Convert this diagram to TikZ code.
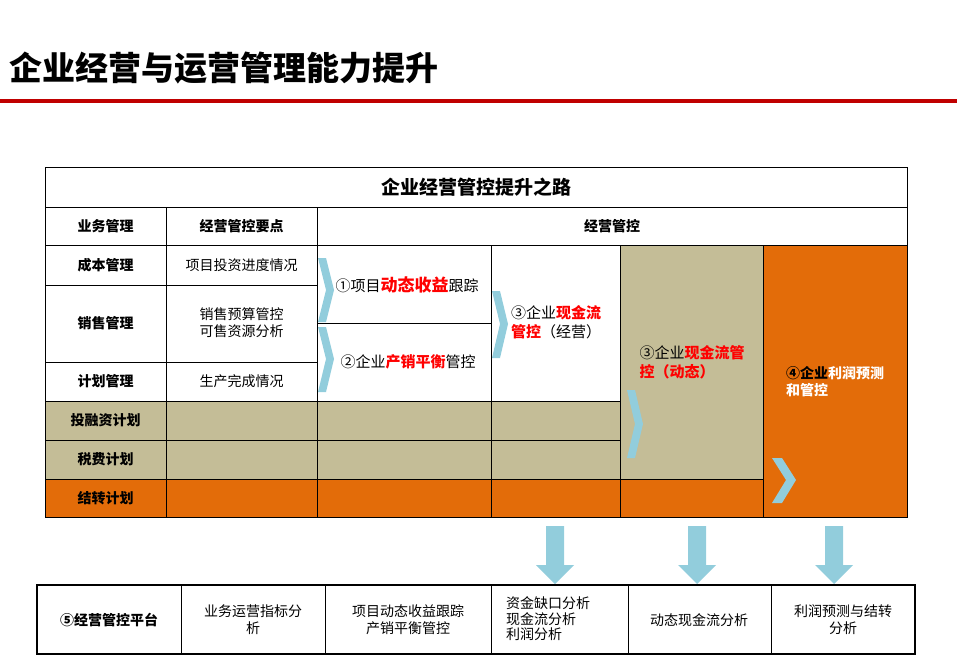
\documentclass[tikz,border=0pt]{standalone}
\usepackage{fontspec}
\setmainfont{Noto Sans CJK SC}
\begin{document}
\begin{tikzpicture}[x=1pt,y=-1pt,
 cell/.style={draw=black,line width=0.8pt},
 tan/.style={cell,fill=tanc},
 org/.style={cell,fill=orgc},
 lbl/.style={font=\fontsize{14}{17}\selectfont\bfseries,align=center},
 txt/.style={font=\fontsize{14}{17}\selectfont,align=center},
 chev/.style={fill=chevc,draw=none}]
\definecolor{tanc}{HTML}{C4BD97}
\definecolor{orgc}{HTML}{E36C09}
\definecolor{chevc}{HTML}{92CDDC}
\definecolor{redc}{HTML}{C00000}
\useasboundingbox (0,0) rectangle (957,656);
\node[anchor=west,font=\fontsize{33}{38}\selectfont\bfseries] (title) at (6,68) {企业经营与运营管理能力提升};
\fill[redc] (0,99) rectangle (957,103);
% backgrounds
\draw[tan] (45,401) rectangle (620,479);
\draw[org] (45,479) rectangle (620,517);
\draw[tan] (620,245) rectangle (763,479);
\draw[org] (620,479) rectangle (763,517);
\draw[org] (763,245) rectangle (907,517);
% grid
\draw[cell] (45,167) rectangle (907,517);
\draw[cell] (45,207) -- (907,207);
\draw[cell] (45,245) -- (907,245);
\foreach \y in {285,362} \draw[cell] (45,\y) -- (317,\y);
\foreach \y in {401,440,479} \draw[cell] (45,\y) -- (620,\y);
\draw[cell] (317,323) -- (491,323);
\draw[cell] (166,207) -- (166,517);
\draw[cell] (317,207) -- (317,517);
\draw[cell] (491,245) -- (491,517);
\draw[cell] (620,245) -- (620,517);
\draw[cell] (763,245) -- (763,517);
\draw[cell] (620,479) -- (763,479);
% texts
\node[lbl,font=\fontsize{19}{22}\selectfont\bfseries] (head) at (476,187) {企业经营管控提升之路};
\node[lbl] (h1) at (105.5,226) {业务管理};
\node[lbl] (h2) at (241.5,226) {经营管控要点};
\node[lbl] (h3) at (612,226) {经营管控};
\node[lbl] (r1) at (105.5,265) {成本管理};
\node[lbl] (r2) at (105.5,323) {销售管理};
\node[lbl] (r3) at (105.5,381) {计划管理};
\node[lbl] (r4) at (105.5,420) {投融资计划};
\node[lbl] (r5) at (105.5,459) {税费计划};
\node[lbl] (r6) at (105.5,498) {结转计划};
\node[txt] (p1) at (241.5,265) {项目投资进度情况};
\node[txt] (p2) at (241.5,323) {销售预算管控\\可售资源分析};
\node[txt] (p3) at (241.5,381) {生产完成情况};
\node[txt,font=\fontsize{15}{18}\selectfont] (c1) at (407,285) {①项目\textcolor{red}{\bfseries\fontsize{17}{18}\selectfont 动态收益}跟踪};
\node[txt,font=\fontsize{15}{18}\selectfont] (c2) at (408,362) {②企业\textcolor{red}{\bfseries 产销平衡}管控};
\node[txt,align=left,font=\fontsize{15}{19}\selectfont] (c3) at (556,322) {③企业\textcolor{red}{\bfseries 现金流}\\\textcolor{red}{\bfseries 管控}（经营）};
\node[txt,align=left,font=\fontsize{15}{19}\selectfont] (c4) at (692,362) {③企业\textcolor{red}{\bfseries 现金流管}\\\textcolor{red}{\bfseries 控（动态）}};
\node[lbl,align=left] (c5) at (835,382) {④企业\textcolor{white}{利润预测}\\\textcolor{white}{和管控}};
% chevrons
\fill[chev] (318,258) -- (326,258) -- (334,290) -- (326,322) -- (318,322) -- (326,290) -- cycle;
\fill[chev] (318,327) -- (326,327) -- (334,359) -- (326,392) -- (318,392) -- (326,359) -- cycle;
\fill[chev] (492,291) -- (500,291) -- (508,324) -- (500,358) -- (492,358) -- (500,324) -- cycle;
\fill[chev] (627,390) -- (635,390) -- (643,424) -- (635,458) -- (627,458) -- (635,424) -- cycle;
\fill[chev] (772,458) -- (782,458) -- (796,480) -- (782,503) -- (772,503) -- (786,480) -- cycle;
% down arrows
\foreach \x in {555,697,834} {
 \fill[chev] (\x-9,526) -- (\x+9,526) -- (\x+9,565) -- (\x+19,565) -- (\x,584) -- (\x-19,565) -- (\x-9,565) -- cycle;}
% bottom table
\draw[black,line width=1.6pt] (37,585) rectangle (915,654);
\foreach \x in {181,325,491,628,771} \draw[black,line width=0.8pt] (\x,585) -- (\x,654);
\node[lbl] (b1) at (109,620) {⑤经营管控平台};
\node[txt] (b2) at (253,620) {业务运营指标分\\析};
\node[txt] (b3) at (408,620) {项目动态收益跟踪\\产销平衡管控};
\node[txt,align=left,font=\fontsize{14}{15.5}\selectfont] (b4) at (548,619) {资金缺口分析\\现金流分析\\利润分析};
\node[txt] (b5) at (699,620) {动态现金流分析};
\node[txt] (b6) at (843,620) {利润预测与结转\\分析};
\end{tikzpicture}
\end{document}
